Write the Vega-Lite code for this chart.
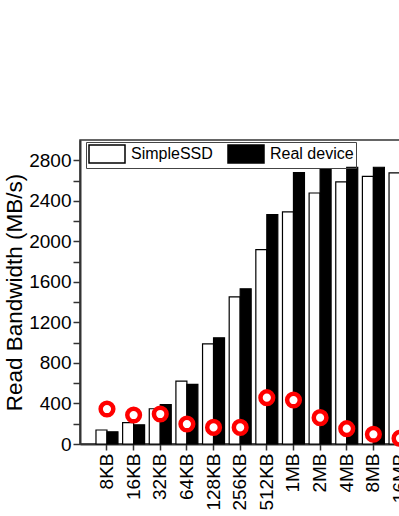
{
  "$schema": "https://vega.github.io/schema/vega-lite/v6.json",
  "width": 347,
  "height": 304,
  "autosize": {"type": "none"},
  "padding": {"left": 80, "top": 140, "right": 0, "bottom": 72},
  "background": "white",
  "config": {
    "font": "Liberation Sans",
    "view": {"stroke": "#333", "strokeWidth": 1.5},
    "axis": {"domainColor": "#333", "domainWidth": 2, "tickColor": "#333", "tickWidth": 1.5, "labelColor": "black", "labelFont": "Liberation Sans", "titleFont": "Liberation Sans", "grid": false}
  },
  "datasets": {
    "bars": [
      {"size": "8KB", "series": "SimpleSSD", "bw": 138}, {"size": "8KB", "series": "Real device", "bw": 121},
      {"size": "16KB", "series": "SimpleSSD", "bw": 210}, {"size": "16KB", "series": "Real device", "bw": 190},
      {"size": "32KB", "series": "SimpleSSD", "bw": 348}, {"size": "32KB", "series": "Real device", "bw": 388},
      {"size": "64KB", "series": "SimpleSSD", "bw": 621}, {"size": "64KB", "series": "Real device", "bw": 588},
      {"size": "128KB", "series": "SimpleSSD", "bw": 988}, {"size": "128KB", "series": "Real device", "bw": 1048},
      {"size": "256KB", "series": "SimpleSSD", "bw": 1452}, {"size": "256KB", "series": "Real device", "bw": 1531},
      {"size": "512KB", "series": "SimpleSSD", "bw": 1919}, {"size": "512KB", "series": "Real device", "bw": 2264},
      {"size": "1MB", "series": "SimpleSSD", "bw": 2290}, {"size": "1MB", "series": "Real device", "bw": 2679},
      {"size": "2MB", "series": "SimpleSSD", "bw": 2477}, {"size": "2MB", "series": "Real device", "bw": 2714},
      {"size": "4MB", "series": "SimpleSSD", "bw": 2586}, {"size": "4MB", "series": "Real device", "bw": 2731},
      {"size": "8MB", "series": "SimpleSSD", "bw": 2642}, {"size": "8MB", "series": "Real device", "bw": 2731},
      {"size": "16MB", "series": "SimpleSSD", "bw": 2675}, {"size": "16MB", "series": "Real device", "bw": 2730}
    ],
    "err": [
      {"size": "8KB", "err": 3.45}, {"size": "16KB", "err": 2.86}, {"size": "32KB", "err": 2.96},
      {"size": "64KB", "err": 1.97}, {"size": "128KB", "err": 1.64}, {"size": "256KB", "err": 1.64},
      {"size": "512KB", "err": 4.57}, {"size": "1MB", "err": 4.34}, {"size": "2MB", "err": 2.6},
      {"size": "4MB", "err": 1.51}, {"size": "8MB", "err": 0.96}, {"size": "16MB", "err": 0.56}
    ]
  },
  "layer": [
    {
      "data": {"name": "bars"},
      "mark": {"type": "bar", "stroke": "black", "strokeWidth": 1.2},
      "encoding": {
        "x": {
          "field": "size", "type": "nominal",
          "sort": ["8KB","16KB","32KB","64KB","128KB","256KB","512KB","1MB","2MB","4MB","8MB","16MB"],
          "scale": {"paddingInner": 0.175, "paddingOuter": 0.6},
          "axis": {"title": null, "labelAngle": -90, "labelAlign": "right", "labelBaseline": "middle", "labelFontSize": 19, "tickSize": 6, "labelPadding": 3}
        },
        "xOffset": {"field": "series", "sort": ["SimpleSSD", "Real device"]},
        "y": {
          "field": "bw", "type": "quantitative",
          "scale": {"domain": [0, 3000]},
          "axis": {
            "title": "Read Bandwidth (MB/s)", "titleFontSize": 22.5, "titleFontWeight": "normal", "titleColor": "black", "titlePadding": 2,
            "values": [0,200,400,600,800,1000,1200,1400,1600,1800,2000,2200,2400,2600,2800],
            "format": "d",
            "labelExpr": "datum.value % 400 == 0 ? datum.label : ''",
            "labelFontSize": 19, "tickSize": 7, "labelPadding": 2,
            "encode": {"ticks": {"update": {"x2": {"signal": "datum.value % 400 == 0 ? -7 : -3"}}}}
          }
        },
        "fill": {
          "field": "series", "type": "nominal",
          "scale": {"domain": ["SimpleSSD", "Real device"], "range": ["white", "black"]},
          "legend": {
            "orient": "none", "legendX": 6, "legendY": 2, "direction": "horizontal", "title": null,
            "symbolType": "M-2,-1H2V1H-2Z", "symbolSize": 324, "symbolOffset": 9,
            "symbolStrokeColor": "black", "symbolStrokeWidth": 1.5, "symbolOpacity": 1,
            "labelFontSize": 16, "labelFont": "Liberation Sans", "labelColor": "black", "labelOffset": 14,
            "strokeColor": "#444", "padding": 2, "columnPadding": 12
          }
        }
      }
    },
    {
      "data": {"name": "err"},
      "mark": {"type": "point", "filled": true, "fill": "white", "stroke": "#ff0000", "strokeWidth": 4.5, "size": 160, "opacity": 1},
      "encoding": {
        "x": {"field": "size", "type": "nominal", "sort": ["8KB","16KB","32KB","64KB","128KB","256KB","512KB","1MB","2MB","4MB","8MB","16MB"]},
        "y": {"field": "err", "type": "quantitative", "scale": {"domain": [0, 30]}, "axis": null}
      }
    }
  ],
  "resolve": {"scale": {"y": "independent"}}
}
